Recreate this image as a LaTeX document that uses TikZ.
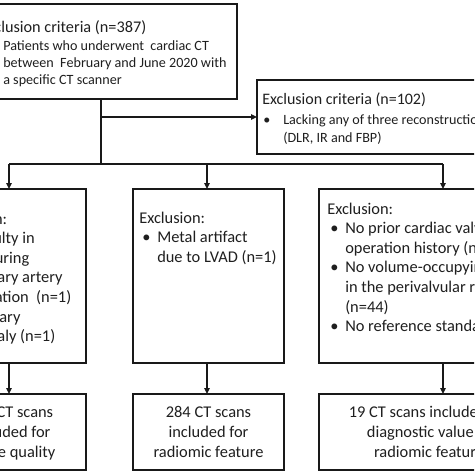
\documentclass[tikz,border=0pt]{standalone}
\usepackage{fontspec}
\setmainfont{Carlito}
\usetikzlibrary{arrows.meta}
\newcommand\blt{\hspace*{2.25pt}\makebox[11.25pt][l]{•}}
\newcommand\indt{\hspace*{13.5pt}}
\newcommand\sblt{\makebox[15pt][l]{•}}
\newcommand\sindt{\hspace*{15pt}}
\tikzset{
  box/.style={draw=black!90, line width=1.5pt, rectangle, inner sep=0pt, outer sep=0pt},
  conn/.style={draw=black!90, line width=1.1pt},
  arr/.style={conn, -{Triangle[length=4.5pt,width=4pt]}},
  big/.style={font=\fontsize{12.3}{14.7}\selectfont, inner sep=0pt, align=left, text=black!88, anchor=base west},
  bigc/.style={font=\fontsize{12.3}{15}\selectfont, inner sep=0pt, align=center, text=black!88, anchor=base},
  small/.style={font=\fontsize{10.6}{13.2}\selectfont, inner sep=0pt, align=left, text=black!88, anchor=base west},
}
\begin{document}
\begin{tikzpicture}[x=0.75pt,y=-0.75pt]
\path[use as bounding box, clip] (0,0) rectangle (474,474);
\fill[white] (0,0) rectangle (474,474);
% boxes
\node[box, minimum width=196.5pt, minimum height=71.25pt] (T) at (106,51.5) {};
\node[box, minimum width=182.25pt, minimum height=55.5pt] (E) at (378.5,117) {};
\node[box, minimum width=113.25pt, minimum height=130.5pt] (B1) at (10.5,276) {};
\node[box, minimum width=113.25pt, minimum height=130.5pt] (B2) at (208.5,276) {};
\node[box, minimum width=165pt, minimum height=130.5pt] (B3) at (429,276) {};
\node[box, minimum width=113.25pt, minimum height=57pt] (L1) at (10.5,432) {};
\node[box, minimum width=113.25pt, minimum height=57pt] (L2) at (208.5,432) {};
\node[box, minimum width=165pt, minimum height=57pt] (L3) at (429,432) {};
% texts (anchor = baseline of the last line)
\node[big, font=\fontsize{12.2}{15}\selectfont] (Th) at (-18.5,32.5) {Inclusion criteria (n=387)};
\node[small, font=\fontsize{10.6}{12.9}\selectfont] (Tb) at (3,84.9) {Patients who underwent~ cardiac CT\\between~ February and June 2020 with\\a specific CT scanner};
\node[big, font=\fontsize{12}{14.7}\selectfont] (Eh) at (262,105) {Exclusion criteria (n=102)};
\node[small] (Eb) at (263,142.6) {\sblt Lacking any of three reconstructions\\\sindt (DLR, IR and FBP)};
\node[big] (B1t) at (-59,341.6) {Exclusion:\\\blt Difficulty in\\\indt measuring\\\indt coronary artery\\\indt evaluation~ (n=1)\\\blt Coronary\\\indt anomaly (n=1)};
\node[big] (B2t) at (139,262.2) {Exclusion:\\\blt Metal artifact\\\indt due to LVAD (n=1)};
\node[big] (B3t) at (327,331.6) {Exclusion:\\\blt No prior cardiac valve\\\indt operation history (n\\\blt No volume-occupying lesion\\\indt in the perivalvular region\\\indt (n=44)\\\blt No reference standard};
\node[bigc] (L1t) at (10.5,457) {283 CT scans\\included for\\image quality};
\node[bigc] (L2t) at (208.5,457) {284 CT scans\\included for\\radiomic feature};
\node[bigc] (L3t) at (429,457) {19 CT scans included for\\diagnostic value of\\radiomic feature};
% connectors
\coordinate (j0) at (101,164);
\coordinate (jE) at (101,117);
\coordinate (h1) at (9,164);
\coordinate (h2) at (207,164);
\coordinate (h3) at (443,164);
\draw[conn] (j0 |- T.south) -- (j0);
\draw[arr] (jE) -- (jE -| E.west);
\draw[conn] (h1) -- (h3);
\draw[arr] (h1) -- (h1 |- B1.north);
\draw[arr] (h2) -- (h2 |- B2.north);
\draw[arr] (h3) -- (h3 |- B3.north);
\draw[arr] (h1 |- B1.south) -- (h1 |- L1.north);
\draw[arr] (h2 |- B2.south) -- (h2 |- L2.north);
\draw[arr] (h3 |- B3.south) -- (h3 |- L3.north);
\end{tikzpicture}
\end{document}
